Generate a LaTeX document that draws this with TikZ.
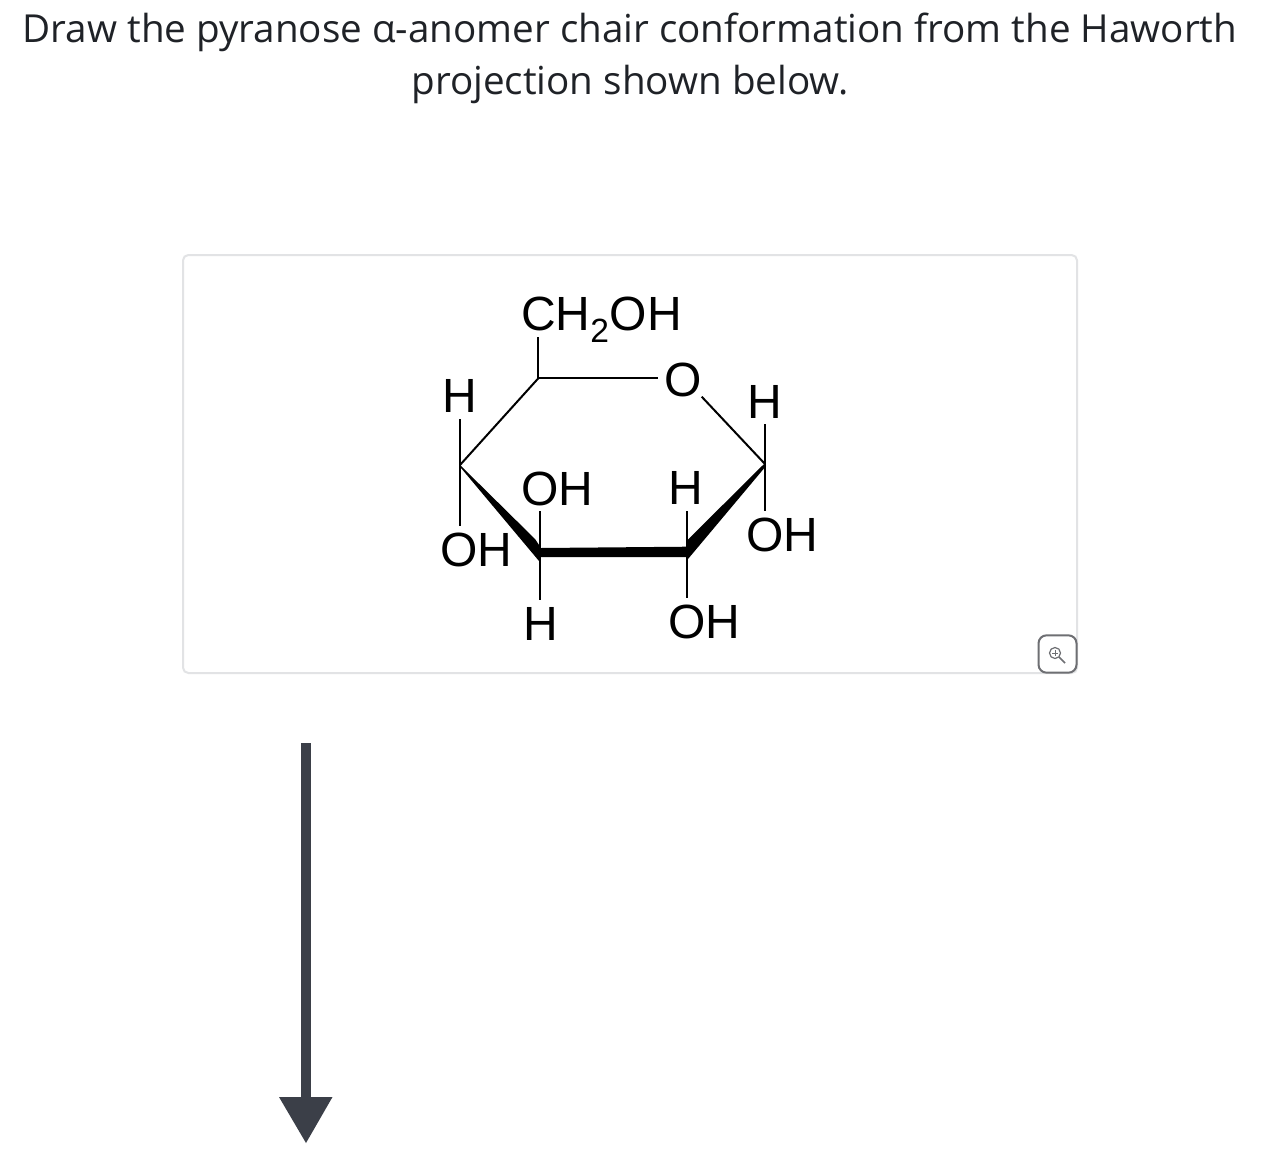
\documentclass[tikz,border=0pt]{standalone}
\usepackage{fontspec}
\setmainfont{Open Sans}
\newfontfamily\chemfont{Liberation Sans}
\usetikzlibrary{calc}
\definecolor{ink}{HTML}{1F2227}
\definecolor{panelline}{HTML}{E2E3E5}
\definecolor{btnline}{HTML}{6E6F73}
\definecolor{arrowgray}{HTML}{3B3F48}
\tikzset{
  px/.style={x=0.75pt,y=-0.75pt},
  titletext/.style={font=\fontsize{28.95}{39}\selectfont,text=ink,align=center,inner sep=0pt},
  chem/.style={font=\chemfont\fontsize{36}{38}\selectfont,text=black,inner sep=0pt,outer sep=4.5pt,text height=26pt,text depth=0pt},
  bond/.style={draw=black,line width=1.5pt},
  wedgefill/.style={fill=black,draw=none},
}
\begin{document}
\begin{tikzpicture}[px]
\useasboundingbox (0,0) rectangle (1288,1174);
\fill[white] (0,0) rectangle (1288,1174);
\node[titletext] (title) at (630,58) {Draw the pyranose α-anomer chair conformation from the Haworth\\projection shown below.};
% panel
\draw[panelline,line width=1.5pt,rounded corners=4pt] (183,255) rectangle (1077,673);
% zoom button
\node[draw=btnline,fill=white,line width=1.5pt,rounded corners=6pt,minimum width=28.5pt,minimum height=28pt,inner sep=0pt] (btn) at (1057.5,654) {};
\coordinate (lens) at (1055,653);
\coordinate (handle) at (1065,663);
\draw[btnline,line width=0.9pt] (lens) circle (5.5);
\draw[btnline,line width=1.2pt] ($(lens)+(4,4)$) -- (handle);
\draw[btnline,line width=0.7pt] ($(lens)+(-3,0)$) -- ($(lens)+(3,0)$) ($(lens)+(0,-3)$) -- ($(lens)+(0,3)$);
% ring atoms
\coordinate (c5) at (538.3,378.3);
\coordinate (c4) at (460,465);
\coordinate (c3) at (540,553);
\coordinate (c2) at (687,552);
\coordinate (c1) at (764.5,463.5);
\node[chem] (oring) at (683,379) {O};
\coordinate (oend) at (701.7,396.7);
% labels
\node[chem,anchor=center] (lch) at (601.5,313.5) {CH\textsubscript{2}OH};
\node[chem] (lh4) at (459.5,395.5) {H};
\node[chem] (loh4) at (476.5,549.5) {OH};
\node[chem] (loh3) at (557.5,488) {OH};
\node[chem] (lh3) at (540.5,623.5) {H};
\node[chem] (lh2) at (686,487.5) {H};
\node[chem] (loh2) at (704,621.5) {OH};
\node[chem] (lh1) at (765,401) {H};
\node[chem] (loh1) at (782.5,534) {OH};
% thin ring bonds
\draw[bond] (c5) -- (c4);
\draw[bond] (c5) -- (oring.west |- c5);
\draw[bond] (oend) -- (c1);
% wedges
\fill[wedgefill] (c4) -- (535,539) -- (541,548) -- (687,546.7) -- (687,540.5) -- (c1) -- (766,466) -- (688,559) -- (686,557) -- (541,557) -- (539,561) -- (461,468) -- cycle;
% substituent bonds
\draw[bond] (c5) -- (c5 |- lch.south);
\draw[bond] (c4) -- (c4 |- lh4.south);
\draw[bond] (c4) -- (c4 |- loh4.north);
\draw[bond] (c3) -- (c3 |- loh3.south);
\draw[bond] (c3) -- (c3 |- lh3.north);
\draw[bond] (c2) -- (c2 |- lh2.south);
\draw[bond] (c2) -- (c2 |- loh2.north);
\draw[bond] (c1) -- (c1 |- lh1.south);
\draw[bond] (c1) -- (c1 |- loh1.north);
% arrow
\coordinate (arrtop) at (306,743);
\coordinate (arrbase) at (306,1097);
\coordinate (arrtip) at (306,1143);
\draw[arrowgray,line width=7.5pt] (arrtop) -- (arrbase);
\fill[arrowgray] ($(arrbase)+(-27,0)$) -- ($(arrbase)+(26.5,0)$) -- (arrtip) -- cycle;
\end{tikzpicture}
\end{document}
